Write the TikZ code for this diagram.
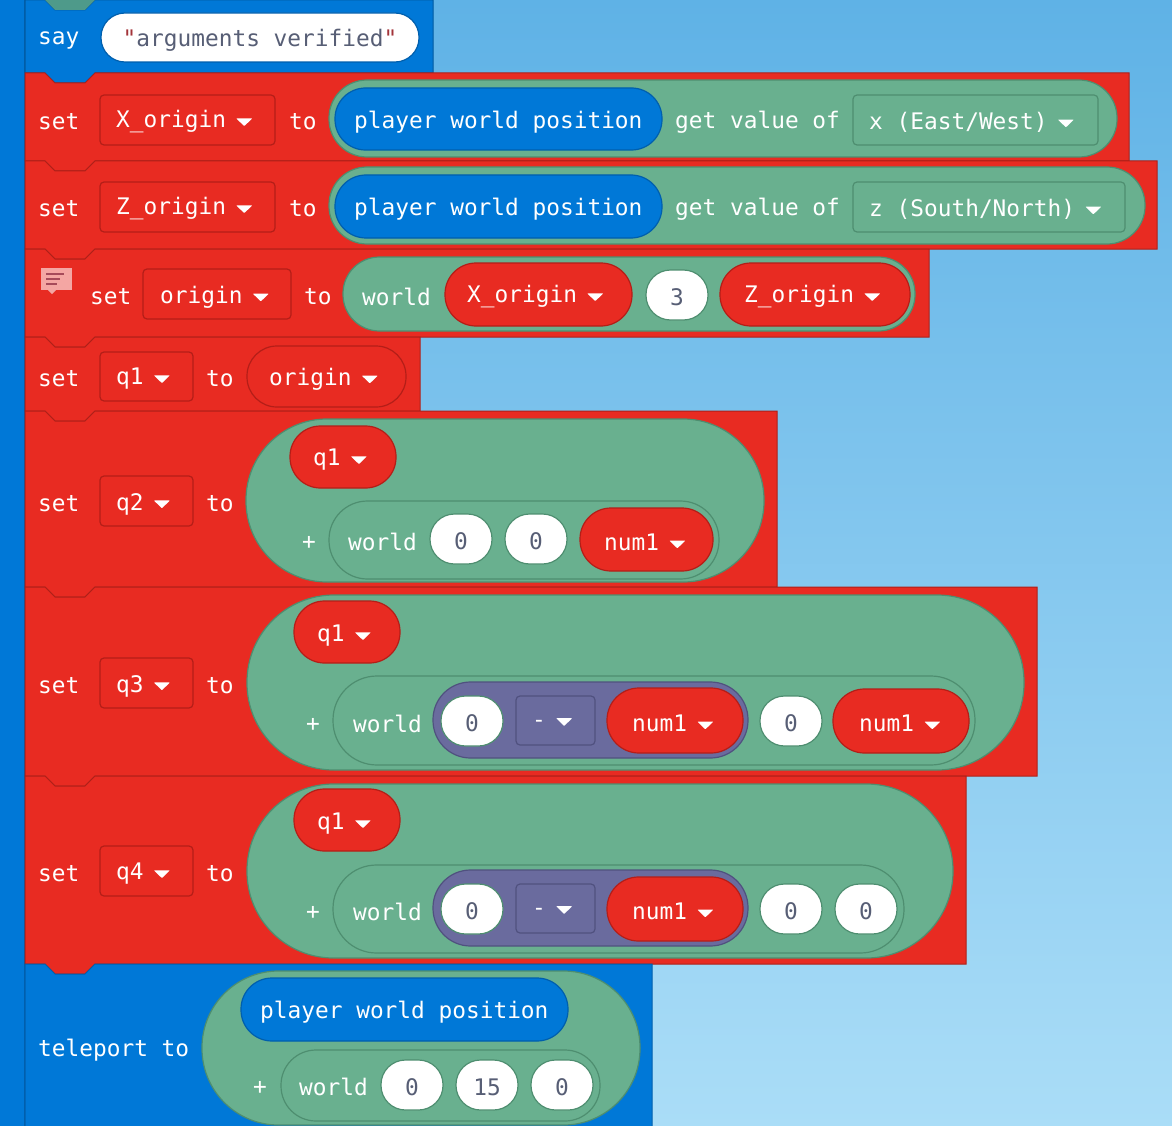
\documentclass[tikz,border=0pt]{standalone}
\usepackage{fontspec}
\setmainfont{DejaVu Sans Mono}
\newfontfamily\qf{DejaVu Sans Mono}
\begin{document}
\begin{tikzpicture}[x=1pt,y=-1pt]
\definecolor{mcblue}{HTML}{0078D7}
\definecolor{mcblueD}{HTML}{005FAD}
\definecolor{mcred}{HTML}{E82B22}
\definecolor{mcredD}{HTML}{B41E18}
\definecolor{mcgreen}{HTML}{69B08F}
\definecolor{mcgreenD}{HTML}{4E8E70}
\definecolor{mcpurple}{HTML}{6A6B9E}
\definecolor{mcpurpleD}{HTML}{50517F}
\definecolor{mcgray}{HTML}{575E75}
\definecolor{skyT}{HTML}{5FB2E6}
\definecolor{skyB}{HTML}{AADDF7}
\definecolor{tealtab}{HTML}{4E9A8A}
\definecolor{cmtbg}{HTML}{F4A6A3}
\definecolor{cmtln}{HTML}{A64A5A}
\definecolor{quot}{HTML}{A3343A}
\tikzset{
  lbl/.style={text=white,font=\fontsize{22.8}{24}\selectfont,inner sep=0pt,anchor=west,yshift=-2pt},
  lblg/.style={text=mcgray,font=\fontsize{22.8}{24}\selectfont,inner sep=0pt,yshift=-2pt},
}
\newcommand\dd{\hspace{0.45em}\tikz[baseline=0pt]\fill[white,rounded corners=0.6pt] (0,0.42em)--(0.7em,0.42em)--(0.35em,0.08em)--cycle;}
\newcommand\blk[5]{\draw[fill=#5,draw=#5!75!black,line width=1pt] (#1,#2)--(45,#2)--(55,#2+10)--(85,#2+10)--(95,#2)--(#3,#2)--(#3,#4)--(95,#4)--(85,#4+10)--(55,#4+10)--(45,#4)--(#1,#4)--cycle;}
\newcommand\pill[6]{\pgfmathsetmacro\rr{((#4)-(#2))/2-0.5}\draw[fill=#5,draw=#6,line width=1.2pt,rounded corners=\rr pt] (#1,#2) rectangle (#3,#4);}
\newcommand\pillr[7]{\draw[fill=#6,draw=#7,line width=1.2pt,rounded corners=#5] (#1,#2) rectangle (#3,#4);}
\newcommand\wpill[3]{\pill{#1}{#2}{#1+62}{#2+50}{white}{mcgreenD}\node[lblg] at (#1+31,#2+25) {#3};}
\useasboundingbox (0,0) rectangle (1172,1126);
\shade[top color=skyT,bottom color=skyB] (0,0) rectangle (1172,1126);
\fill[mcblue] (0,0) rectangle (25,1126);
\draw[mcblueD,line width=1pt] (24.5,0)--(24.5,1126);
% say
\blk{25}{0}{433}{73}{mcblue}
\fill[tealtab] (45,0)--(55,10)--(85,10)--(95,0)--cycle;
\node[lbl] at (38,38) {say};
\pill{101}{13}{419}{62}{white}{mcblueD}
\node[lblg] at (260,38) {{\qf\color{quot}"}arguments verified{\qf\color{quot}"}};
% set X_origin
\blk{25}{73}{1129}{161}{mcred}
\node[lbl] at (38,120) {set};
\pillr{100}{95}{275}{145}{4}{mcred}{mcredD}
\node[lbl] at (116,120) {X\_origin\dd};
\node[lbl] at (289,120) {to};
\pill{329}{80}{1117}{157}{mcgreen}{mcgreenD}
\pill{335}{88}{662}{150}{mcblue}{mcblueD}
\node[lbl] at (354,120) {player world position};
\node[lbl] at (675,120) {get value of};
\pillr{853}{95}{1098}{145}{4}{mcgreen}{mcgreenD}
\node[lbl] at (869,120) {x (East/West)\dd};
% set Z_origin
\blk{25}{161}{1157}{249}{mcred}
\node[lbl] at (38,207) {set};
\pillr{100}{182}{275}{232}{4}{mcred}{mcredD}
\node[lbl] at (116,207) {Z\_origin\dd};
\node[lbl] at (289,207) {to};
\pill{329}{167}{1145}{244}{mcgreen}{mcgreenD}
\pill{335}{175}{662}{238}{mcblue}{mcblueD}
\node[lbl] at (354,207) {player world position};
\node[lbl] at (675,207) {get value of};
\pillr{853}{182}{1125}{232}{4}{mcgreen}{mcgreenD}
\node[lbl] at (869,207) {z (South/North)\dd};
% set origin
\blk{25}{249}{929}{337}{mcred}
\fill[cmtbg] (41,268) rectangle (72,290);
\fill[cmtbg] (48,290)--(56,290)--(52,294)--cycle;
\foreach \yy/\ww in {274/18,279/14,284/11}{\draw[cmtln,line width=1.6pt] (46,\yy)--(46+\ww,\yy);}
\node[lbl] at (90,295) {set};
\pillr{143}{269}{291}{319}{4}{mcred}{mcredD}
\node[lbl] at (160,295) {origin\dd};
\node[lbl] at (304,295) {to};
\pill{343}{257}{915}{331}{mcgreen}{mcgreenD}
\node[lbl] at (362,295) {world};
\pill{445}{263}{632}{326}{mcred}{mcredD}
\node[lbl] at (467,295) {X\_origin\dd};
\wpill{646}{270}{3}
\pill{720}{263}{910}{326}{mcred}{mcredD}
\node[lbl] at (744,295) {Z\_origin\dd};
% set q1
\blk{25}{337}{420}{411}{mcred}
\node[lbl] at (38,377) {set};
\pillr{100}{352}{193}{401}{4}{mcred}{mcredD}
\node[lbl] at (116,377) {q1\dd};
\node[lbl] at (206,377) {to};
\pill{247}{346}{406}{407}{mcred}{mcredD}
\node[lbl] at (269,377) {origin\dd};
% set q2
\blk{25}{411}{777}{587}{mcred}
\node[lbl] at (38,502) {set};
\pillr{100}{476}{193}{526}{4}{mcred}{mcredD}
\node[lbl] at (116,502) {q2\dd};
\node[lbl] at (206,502) {to};
\pill{246}{419}{764}{582}{mcgreen}{mcgreenD}
\pill{290}{426}{396}{488}{mcred}{mcredD}
\node[lbl] at (313,458) {q1\dd};
\node[lbl] at (302,541) {+};
\pill{329}{501}{719}{579}{mcgreen}{mcgreenD}
\node[lbl] at (348,540) {world};
\wpill{430}{514}{0}
\wpill{505}{514}{0}
\pill{580}{508}{713}{571}{mcred}{mcredD}
\node[lbl] at (604,540) {num1\dd};
% set q3
\blk{25}{587}{1037}{776}{mcred}
\node[lbl] at (38,684) {set};
\pillr{100}{658}{193}{708}{4}{mcred}{mcredD}
\node[lbl] at (116,684) {q3\dd};
\node[lbl] at (206,684) {to};
\pill{247}{595}{1024}{770}{mcgreen}{mcgreenD}
\pill{294}{601}{400}{663}{mcred}{mcredD}
\node[lbl] at (317,634) {q1\dd};
\node[lbl] at (306,723) {+};
\pill{333}{676}{975}{765}{mcgreen}{mcgreenD}
\node[lbl] at (353,722) {world};
\pill{433}{682}{748}{758}{mcpurple}{mcpurpleD}
\wpill{441}{696}{0}
\pillr{516}{696}{595}{745}{4}{mcpurple}{mcpurpleD}
\node[lbl] at (532,721) {-\dd};
\pill{607}{688}{743}{753}{mcred}{mcredD}
\node[lbl] at (632,721) {num1\dd};
\wpill{760}{696}{0}
\pill{833}{689}{969}{753}{mcred}{mcredD}
\node[lbl] at (859,721) {num1\dd};
% set q4
\blk{25}{776}{966}{964}{mcred}
\node[lbl] at (38,872) {set};
\pillr{100}{846}{193}{896}{4}{mcred}{mcredD}
\node[lbl] at (116,872) {q4\dd};
\node[lbl] at (206,872) {to};
\pill{247}{784}{953}{958}{mcgreen}{mcgreenD}
\pill{294}{789}{400}{851}{mcred}{mcredD}
\node[lbl] at (317,822) {q1\dd};
\node[lbl] at (306,911) {+};
\pill{333}{865}{904}{953}{mcgreen}{mcgreenD}
\node[lbl] at (353,910) {world};
\pill{433}{870}{748}{946}{mcpurple}{mcpurpleD}
\wpill{441}{884}{0}
\pillr{516}{884}{595}{933}{4}{mcpurple}{mcpurpleD}
\node[lbl] at (532,909) {-\dd};
\pill{607}{877}{743}{941}{mcred}{mcredD}
\node[lbl] at (632,909) {num1\dd};
\wpill{760}{884}{0}
\wpill{835}{884}{0}
% teleport
\draw[fill=mcblue,draw=mcblueD,line width=1pt] (25,1130)--(25,964)--(45,964)--(55,974)--(85,974)--(95,964)--(652,964)--(652,1130);
\node[lbl] at (38,1048) {teleport to};
\pill{202}{971}{640}{1125}{mcgreen}{mcgreenD}
\pill{241}{978}{568}{1041}{mcblue}{mcblueD}
\node[lbl] at (260,1010) {player world position};
\node[lbl] at (253,1086) {+};
\pill{281}{1050}{600}{1121}{mcgreen}{mcgreenD}
\node[lbl] at (299,1085) {world};
\wpill{381}{1060}{0}
\wpill{456}{1060}{15}
\wpill{531}{1060}{0}
\end{tikzpicture}
\end{document}
